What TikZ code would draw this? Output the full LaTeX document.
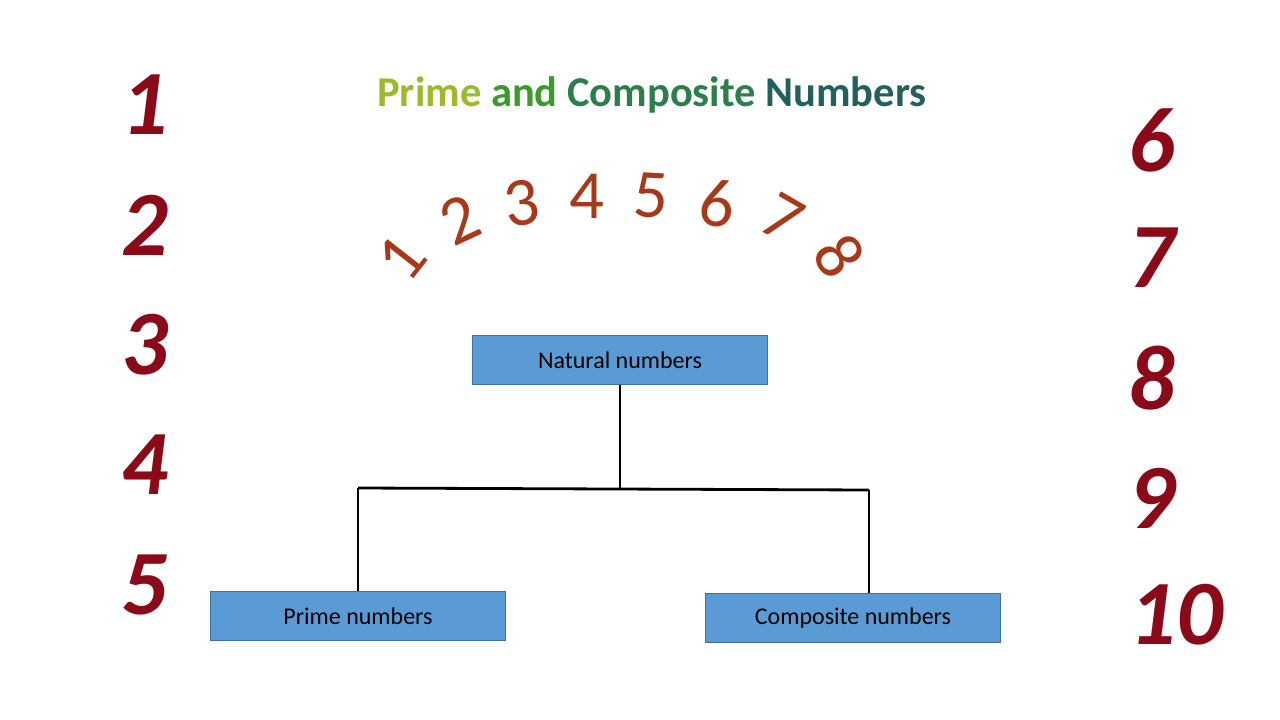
\documentclass[tikz,border=0pt]{standalone}
\usepackage{fontspec}
\setmainfont{Carlito}
\definecolor{side}{HTML}{8B0A1A}
\definecolor{arc}{HTML}{A8381A}
\definecolor{boxf}{HTML}{5B9BD5}
\definecolor{boxd}{HTML}{41719C}
\begin{document}
\begin{tikzpicture}[x=1pt,y=-1pt,
  sidenum/.style={text=side,font=\fontsize{92}{92}\selectfont\bfseries\itshape},
  arcnum/.style={text=arc,font=\fontsize{69}{69}\selectfont},
  box/.style={draw=boxd,fill=boxf,minimum width=295pt,minimum height=49pt,font=\fontsize{24}{24}\selectfont,inner sep=0pt},
  conn/.style={line width=2.8pt}]
\useasboundingbox (0,0) rectangle (1280,720);
\node[font=\fontsize{42.5}{42.5}\selectfont\bfseries] (title) at (652,95)
 {\textcolor[HTML]{9ABB2A}{Prime} \textcolor[HTML]{3A9A2A}{and} \textcolor[HTML]{2A7F4A}{Composite} \textcolor[HTML]{22605F}{Numbers}};
\foreach \n/\y in {1/105,2/225,3/345,4/465,5/585}
  \node[sidenum] (l\n) at (145,\y) {\n};
\foreach \n/\y/\x in {6/140/1152,7/258/1152,8/378/1152,9/498/1152,10/615/1176}
  \node[sidenum] (r\n) at (\x,\y) {\n};
\node[arcnum,rotate=52] (a1) at (402,258) {1};
\node[arcnum,rotate=25] (a2) at (460,220) {2};
\node[arcnum,rotate=8] (a3) at (522,203) {3};
\node[arcnum] (a4) at (587,196) {4};
\node[arcnum,rotate=-3] (a5) at (651,196) {5};
\node[arcnum,rotate=-6] (a6) at (717,203) {6};
\node[arcnum,rotate=-30] (a7) at (783,218) {7};
\node[arcnum,rotate=-58] (a8) at (840,256) {8};
\node[box] (nat) at (620,360) {Natural numbers};
\node[box] (pri) at (358,616) {Prime numbers};
\node[box] (com) at (853,618) {Composite numbers};
\coordinate (j) at (620,488);
\coordinate (jl) at (358,488);
\coordinate (jr) at (869,490);
\draw[conn] (nat.south) -- (j);
\draw[conn] (jl) -- (jr);
\draw[conn] (jl) -- (jl |- pri.north);
\draw[conn] (jr) -- (jr |- com.north);
\end{tikzpicture}
\end{document}
